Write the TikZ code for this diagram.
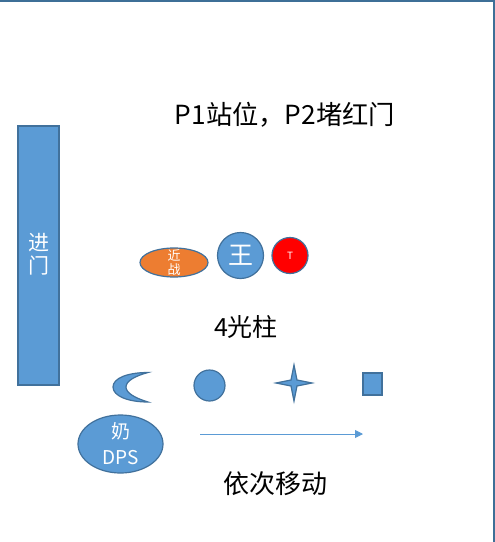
\documentclass[tikz,border=0pt]{standalone}
\usepackage{fontspec}
\setmainfont{Noto Sans CJK SC}
\usetikzlibrary{shapes.geometric,arrows.meta}
\definecolor{fillblue}{HTML}{5B9BD5}
\definecolor{edgeblue}{HTML}{41719C}
\definecolor{framecol}{HTML}{3E6F97}
\definecolor{orangefill}{HTML}{ED7D31}
\tikzset{
  shp/.style={fill=fillblue,draw=edgeblue,line width=1.2pt},
  wtxt/.style={text=white,inner sep=0pt},
  btxt/.style={text=black,inner sep=0pt,font=\fontsize{25}{28}\selectfont},
}
\begin{document}
\begin{tikzpicture}[x=1pt,y=-1pt]
\useasboundingbox (0,0) rectangle (495,542);
\fill[white] (0,0) rectangle (495,542);
% frame
\coordinate (fl) at (0,1);
\coordinate (fr) at (494,1);
\coordinate (fb) at (494,542);
\draw[framecol,line width=2pt] (fl) -- (fr) -- (fb);
% door
\node[shp,rectangle,minimum width=41pt,minimum height=259pt,inner sep=0pt] (door) at (38.5,255.5) {};
\node[wtxt,align=center,font=\fontsize{21}{23}\selectfont] (doortxt) at (38.5,254) {进\\门};
% title
\node[btxt,font=\fontsize{26.3}{28}\selectfont] (title) at (285,115) {P1站位，P2堵红门};
% row 1
\node[ellipse,fill=orangefill,draw=edgeblue,line width=1.2pt,minimum width=68pt,minimum height=29pt,inner sep=0pt] (melee) at (174,262.5) {};
\node[wtxt,align=center,font=\fontsize{13}{14}\selectfont] (meleetxt) at (174,263) {近\\战};
\node[shp,circle,minimum size=46pt,inner sep=0pt,text=white,font=\fontsize{25}{28}\selectfont] (king) at (240.5,255.5) {王};
\node[circle,fill=red,draw=edgeblue,line width=1.2pt,minimum size=36pt,inner sep=0pt,text=white,font=\fontsize{10}{12}\selectfont] (tank) at (290,255.5) {T};
% 4 pillars
\node[btxt] (pillars) at (246,327) {4光柱};
% row 2 shapes
\draw[shp] (148,372.5) .. controls (128,372.5) and (113,378) .. (113,387)
  .. controls (113,396) and (128,402) .. (148,402)
  .. controls (135,398) and (126,393) .. (126,387)
  .. controls (126,381) and (135,376) .. (148,372.5) -- cycle;
\node[shp,circle,minimum size=31pt,inner sep=0pt] (ball) at (209.5,385.5) {};
\draw[shp] (276,383) -- (291,380) -- (294,365) -- (297,380) -- (312,383) -- (297,386) -- (294,401) -- (291,386) -- cycle;
\node[shp,rectangle,minimum width=19pt,minimum height=22pt,inner sep=0pt] (sq) at (372.5,384) {};
% healer / dps
\node[shp,ellipse,minimum width=85pt,minimum height=58pt,inner sep=0pt] (dps) at (120.5,444) {};
\node[wtxt,align=center,font=\fontsize{19}{26}\selectfont] (dpstxt) at (120.5,444) {奶\\DPS};
% arrow
\coordinate (a1) at (200,434);
\coordinate (a2) at (363,434);
\draw[fillblue,line width=0.9pt,-{Triangle[length=8pt,width=8pt]}] (a1) -- (a2);
\node[btxt,font=\fontsize{26}{28}\selectfont] (move) at (275,484) {依次移动};
\end{tikzpicture}
\end{document}
